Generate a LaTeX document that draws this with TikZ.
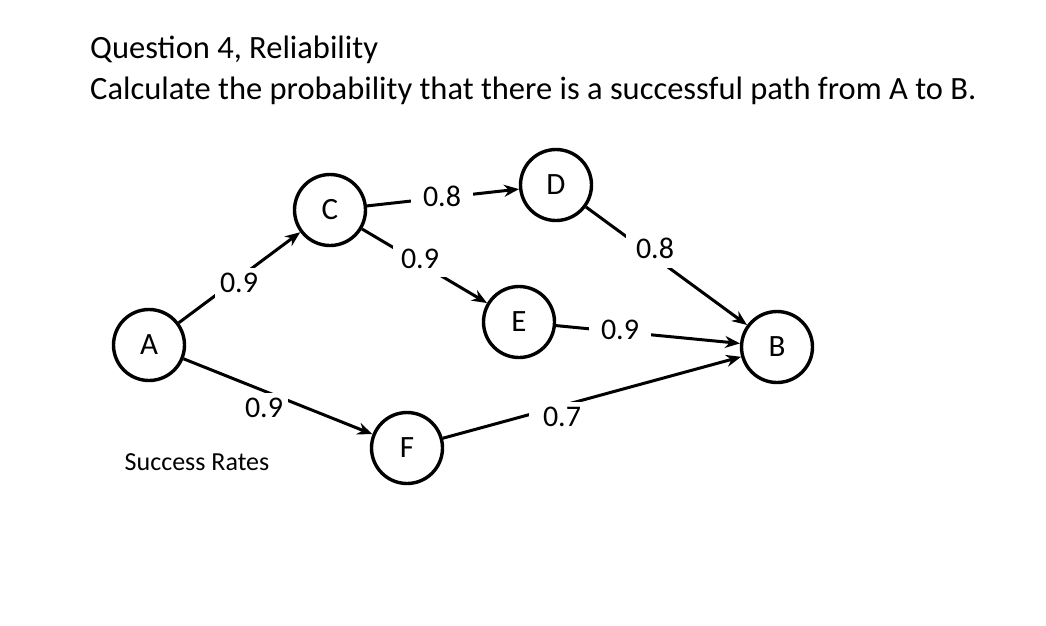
\documentclass[tikz,border=0pt]{standalone}
\usepackage{fontspec}
\setmainfont{Carlito}
\usetikzlibrary{arrows.meta}
\begin{document}
\begin{tikzpicture}[x=1pt,y=-1pt,
  vtx/.style={circle,draw,line width=3.4pt,minimum size=71pt,inner sep=0pt,font=\fontsize{31}{36}\selectfont},
  lab/.style={fill=white,inner sep=5pt,font=\fontsize{30}{36}\selectfont},
  con/.style={line width=3pt,-{Stealth[length=15pt,width=12pt]}}]
\useasboundingbox (0,0) rectangle (1046,625);
\node[anchor=base west,font=\fontsize{32.5}{38}\selectfont,inner sep=0pt] (t1) at (90,58) {Question 4, Reliability};
\node[anchor=base west,font=\fontsize{32.5}{38}\selectfont,inner sep=0pt] (t2) at (90,99) {Calculate the probability that there is a successful path from A to B.};
\node[vtx] (A) at (149,345) {A};
\node[vtx] (C) at (330,210) {C};
\node[vtx] (D) at (556,185) {D};
\node[vtx] (E) at (519,322) {E};
\node[vtx] (B) at (777,347) {B};
\node[vtx] (F) at (407,448) {F};
\draw[con] (A) -- (C);
\draw[con] (A) -- (F);
\draw[con] (C) -- (D);
\draw[con] (C) -- (E);
\draw[con] (D) -- (B);
\draw[con] (E) -- (B);
\draw[con] (F) -- (B);
\node[lab] (l1) at (239,283) {0.9};
\node[lab] (l2) at (264,408) {0.9};
\node[lab,inner xsep=12pt] (l3) at (442,196) {0.8};
\node[lab,inner sep=8pt] (l4) at (420,259) {0.9};
\node[lab,inner sep=10pt] (l5) at (655,248) {0.8};
\node[lab,inner xsep=12pt] (l6) at (620,330) {0.9};
\node[lab,inner xsep=14pt] (l7) at (562,417) {0.7};
\node[font=\fontsize{26}{30}\selectfont] (sr) at (197,462) {Success Rates};
\end{tikzpicture}
\end{document}
